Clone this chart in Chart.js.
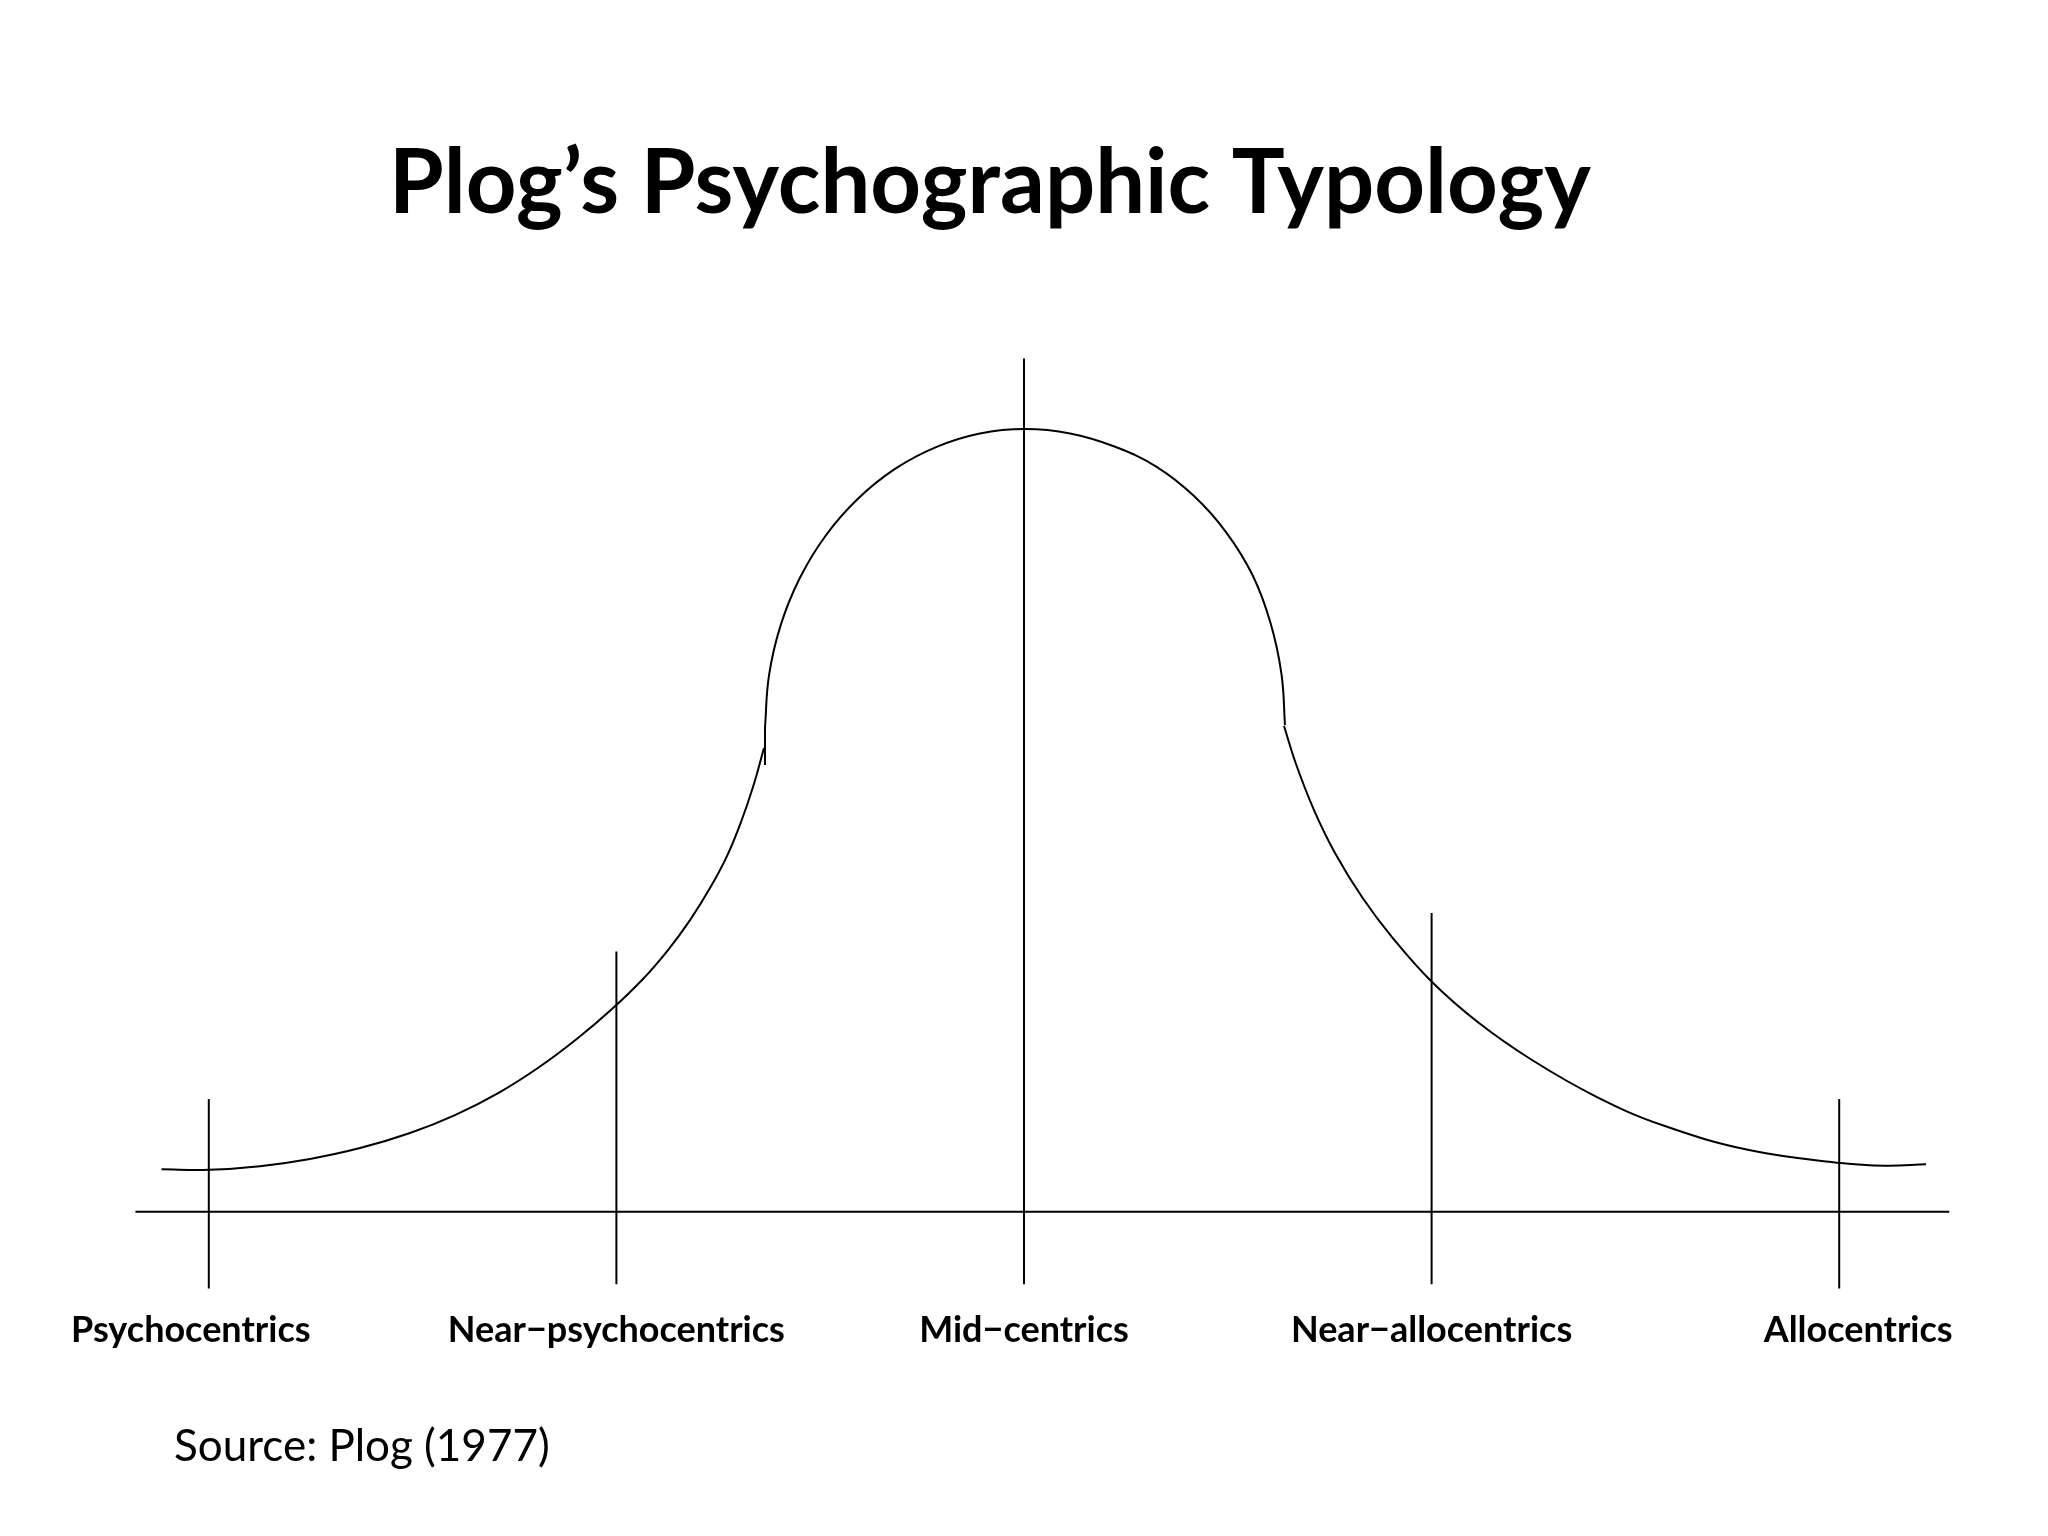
<!DOCTYPE html>
<html>
<head>
<meta charset="utf-8">
<script src="https://cdn.jsdelivr.net/npm/chart.js@4/dist/chart.umd.min.js"></script>
<style>
  html, body { margin: 0; padding: 0; background: #ffffff; }
  #wrap { width: 2048px; height: 1536px; position: relative; }
</style>
</head>
<body>
<div id="wrap"><canvas id="c" width="2048" height="1536"></canvas></div>
<script>
// ---- Text ----
const chartTitle = "Plog\u2019s Psychographic Typology";
const sourceNote = "Source: Plog (1977)";

// ---- Categories (positions 0..4 on the x axis) ----
const categories = ["Psychocentrics", "Near\u2212psychocentrics", "Mid\u2212centrics", "Near\u2212allocentrics", "Allocentrics"];
const markerX = [0, 1, 2, 3, 4];
const markerTop = [13.2, 30.5, 100, 35.0, 13.2];
const markerBottom = [-9, -8.5, -8.5, -8.5, -9];

// ---- Baseline extent ----
const baselineX = [-0.18, 4.27];
const baselineY = [0, 0];

// ---- Curve: left flank ----
const leftFlankX = [-0.1160, 0.0005, 0.1256, 0.2483, 0.3710, 0.4936, 0.6040, 0.7144, 0.8126, 0.9058, 0.9892, 1.0628, 1.1266, 1.1806, 1.2296, 1.2713, 1.3057, 1.3351, 1.3621];
const leftFlankY = [4.97, 4.92, 5.34, 6.19, 7.46, 9.23, 11.33, 14.03, 17.02, 20.36, 23.75, 27.15, 30.67, 34.18, 37.93, 41.68, 45.67, 49.77, 54.34];

// ---- short vertical stub at left join ----
const stubX = [1.3646, 1.3646];
const stubY = [56.8, 52.35];

// ---- top arc ----
const arcX = [1.3646, 1.3744, 1.4031, 1.4500, 1.5137, 1.5925, 1.6835, 1.7843, 1.8918, 2.0025, 2.1131, 2.2220, 2.3263, 2.4171, 2.4956, 2.5606, 2.6048, 2.6317, 2.6403];
const arcY = [56.80, 62.86, 68.74, 74.26, 79.25, 83.55, 87.05, 89.61, 91.20, 91.72, 91.20, 89.67, 87.27, 83.87, 79.65, 74.61, 68.99, 63.01, 57.03];

// ---- right flank ----
const rightFlankX = [2.6379, 2.6673, 2.7115, 2.7630, 2.8292, 2.9028, 3.0010, 3.1163, 3.2463, 3.4058, 3.5653, 3.7787, 4.0044, 4.1124, 4.2130];
const rightFlankY = [56.92, 52.47, 47.07, 42.04, 36.88, 32.19, 26.92, 22.11, 17.78, 13.44, 10.16, 7.23, 5.71, 5.39, 5.55];

function pts(xs, ys) { return xs.map((x, i) => ({ x: x, y: ys[i] })); }

const lineStyle = { showLine: true, borderColor: '#000', borderWidth: 2, pointRadius: 0, fill: false };

const datasets = [];
datasets.push(Object.assign({ label: 'baseline', data: pts(baselineX, baselineY), tension: 0 }, lineStyle));
markerX.forEach((x, i) => {
  datasets.push(Object.assign({ label: categories[i], data: [{ x: x, y: markerBottom[i] }, { x: x, y: markerTop[i] }], tension: 0 }, lineStyle));
});
datasets.push(Object.assign({ label: 'left', data: pts(leftFlankX, leftFlankY), tension: 0.4 }, lineStyle));
datasets.push(Object.assign({ label: 'stub', data: pts(stubX, stubY), tension: 0 }, lineStyle));
datasets.push(Object.assign({ label: 'arc', data: pts(arcX, arcY), tension: 0.4 }, lineStyle));
datasets.push(Object.assign({ label: 'right', data: pts(rightFlankX, rightFlankY), tension: 0.4 }, lineStyle));

const labelShift = [-18, 0, 0, 0, 19];

const textPlugin = {
  id: 'texts',
  afterDraw(chart) {
    const ctx = chart.ctx;
    const xs = chart.scales.x;
    ctx.save();
    ctx.fillStyle = '#000';
    // title
    ctx.font = 'bold 89px Lato, "Open Sans", sans-serif';
    ctx.textAlign = 'center';
    ctx.textBaseline = 'alphabetic';
    ctx.fillText(chartTitle, 990, 213, 1202);
    // category labels
    ctx.font = 'bold 36px Lato, "Open Sans", sans-serif';
    categories.forEach((c, i) => {
      const cx = xs.getPixelForValue(markerX[i]) + labelShift[i];
      ctx.fillText(c, cx, 1342);
    });
    // source
    ctx.font = '44px Lato, "Open Sans", sans-serif';
    ctx.textAlign = 'left';
    ctx.fillText(sourceNote, 174, 1461);
    ctx.restore();
  }
};

new Chart(document.getElementById('c'), {
  type: 'scatter',
  data: { datasets: datasets },
  options: {
    responsive: false,
    animation: false,
    devicePixelRatio: 1,
    layout: { padding: { left: 5, right: 5, top: 0, bottom: 0 } },
    plugins: { legend: { display: false }, tooltip: { enabled: false }, title: { display: false } },
    scales: {
      x: { type: 'linear', min: -0.5, max: 4.5, display: false },
      y: { type: 'linear', min: -38, max: 142, display: false }
    }
  },
  plugins: [textPlugin]
});
</script>
</body>
</html>
